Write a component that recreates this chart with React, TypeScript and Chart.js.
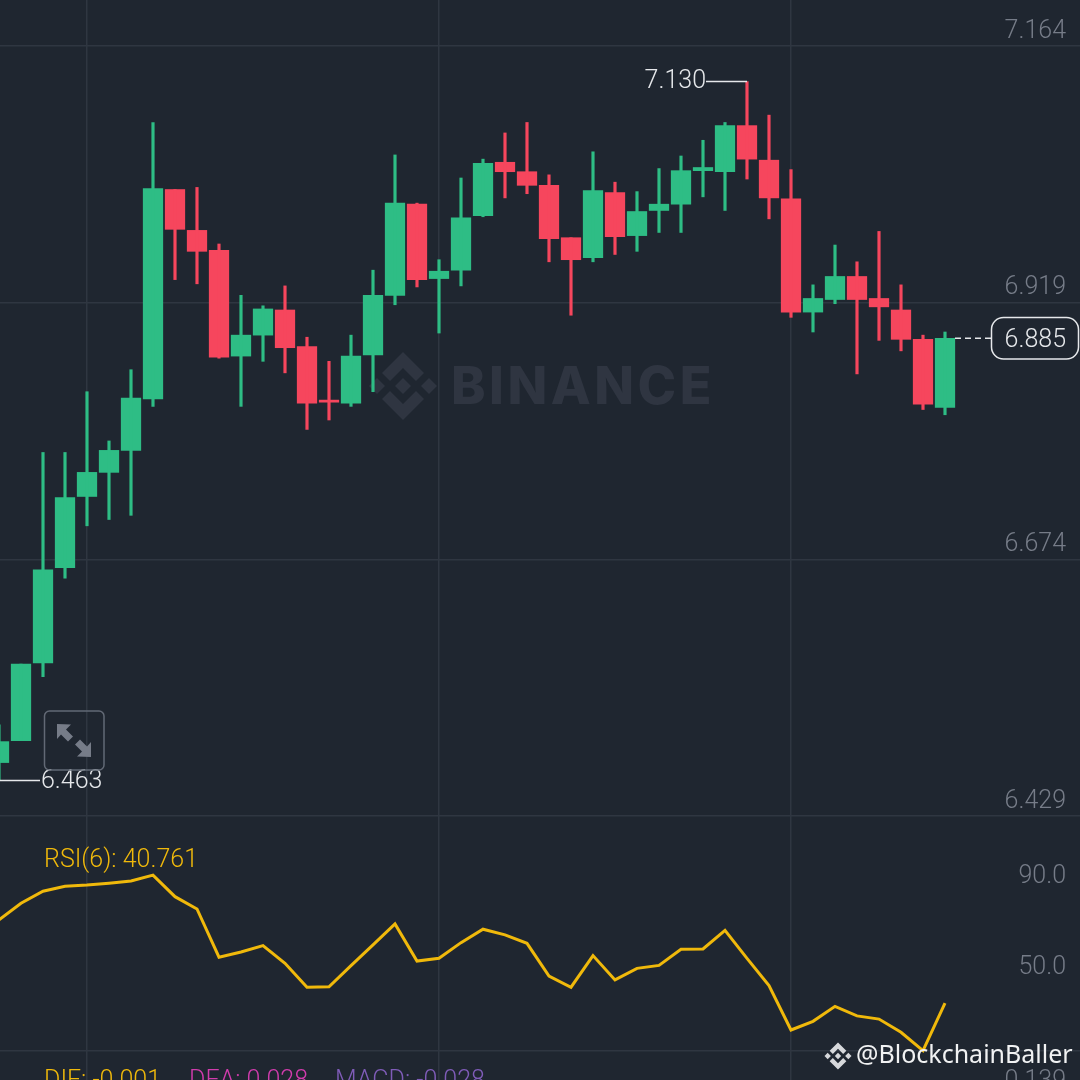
import React, { useEffect, useRef } from "react";
import { Chart, registerables } from "chart.js";

Chart.register(...registerables);

// candle index 0 is the leftmost, partly cut candle
const opens = [6.48, 6.501, 6.575, 6.666, 6.734, 6.757, 6.778, 6.827, 7.027, 6.988, 6.969, 6.868, 6.888, 6.912, 6.877, 6.826, 6.823, 6.869, 6.926, 7.013, 6.942, 6.95, 7.002, 7.053, 7.044, 7.031, 6.981, 6.962, 7.024, 6.983, 7.007, 7.013, 7.045, 7.044, 7.088, 7.055, 7.018, 6.91, 6.922, 6.944, 6.923, 6.912, 6.884, 6.819];
const closes = [6.5, 6.574, 6.664, 6.733, 6.757, 6.778, 6.828, 7.028, 6.989, 6.968, 6.867, 6.888, 6.913, 6.876, 6.823, 6.824, 6.868, 6.926, 7.014, 6.941, 6.949, 7.0, 7.052, 7.044, 7.031, 6.98, 6.96, 7.026, 6.982, 7.006, 7.013, 7.045, 7.048, 7.088, 7.056, 7.019, 6.91, 6.923, 6.944, 6.922, 6.915, 6.884, 6.822, 6.885];
const highs = [6.516, 6.574, 6.776, 6.776, 6.834, 6.787, 6.855, 7.091, 7.027, 7.029, 6.975, 6.926, 6.916, 6.935, 6.886, 6.863, 6.888, 6.95, 7.06, 7.014, 6.96, 7.038, 7.056, 7.081, 7.091, 7.041, 6.981, 7.063, 7.034, 7.025, 7.047, 7.059, 7.074, 7.091, 7.13, 7.098, 7.046, 6.936, 6.974, 6.958, 6.987, 6.936, 6.888, 6.891];
const lows = [6.463, 6.501, 6.562, 6.656, 6.706, 6.712, 6.716, 6.82, 6.941, 6.937, 6.866, 6.82, 6.863, 6.852, 6.798, 6.807, 6.82, 6.834, 6.917, 6.934, 6.89, 6.935, 7.001, 7.019, 7.023, 6.958, 6.907, 6.958, 6.965, 6.968, 6.986, 6.986, 7.02, 7.007, 7.037, 6.999, 6.905, 6.891, 6.918, 6.851, 6.883, 6.873, 6.817, 6.812];
const rsiValues = [77.3, 84.6, 89.9, 92.1, 92.6, 93.4, 94.4, 97.0, 87.5, 82.1, 60.9, 63.2, 66.0, 58.2, 47.7, 47.9, 57.2, 66.3, 75.5, 59.2, 60.4, 67.3, 73.2, 70.7, 67.0, 52.6, 47.7, 61.6, 50.9, 56.0, 57.3, 64.4, 64.5, 72.7, 60.4, 48.4, 28.9, 32.7, 39.3, 35.1, 33.7, 27.9, 19.8, 40.761];

const priceTicks = [7.164, 6.919, 6.674, 6.429];
const panelDividerPrice = 6.205;
const rsiTicks = [90, 50];
const verticalGridCandles = [4, 20, 36];

const lastPrice = 6.885;
const highMark = { index: 34, price: 7.13 };
const lowMark = { index: 0, price: 6.463 };
const rsiLabel = "RSI(6): 40.761";
const macdLabels = [
  { text: "DIF: -0.001", color: "#F0B90B", x: 44 },
  { text: "DEA: 0.028", color: "#D13CAD", x: 189 },
  { text: "MACD: -0.028", color: "#7F5CB8", x: 335 },
];
const macdTick = "0.139";
const watermark = "BINANCE";
const handle = "@BlockchainBaller";

const BG = "#1F2630";
const GRID = "#2F3641";
const UP = "#2EBD85";
const DOWN = "#F6465D";
const AXIS_TEXT = "#767C88";
const LIGHT = "#E6E8EB";
const FONT = "Roboto, sans-serif";

function logo(ctx: CanvasRenderingContext2D, cx: number, cy: number, s: number, color: string) {
  const poly = (pts: number[][]) => {
    ctx.beginPath();
    pts.forEach(([a, b], k) => {
      const px = cx + (a * s) / 34;
      const py = cy + (b * s) / 34;
      if (k === 0) ctx.moveTo(px, py);
      else ctx.lineTo(px, py);
    });
    ctx.closePath();
    ctx.fill();
  };
  const diamond = (dx: number) => poly([[dx, -8], [dx + 8, 0], [dx, 8], [dx - 8, 0]]);
  ctx.fillStyle = color;
  poly([[0, -34], [21, -13], [13, -5], [0, -18], [-13, -5], [-21, -13]]);
  poly([[0, 34], [21, 13], [13, 5], [0, 18], [-13, 5], [-21, 13]]);
  diamond(0);
  diamond(-26);
  diamond(26);
}

const backdrop = {
  id: "backdrop",
  beforeDraw(chart: any) {
    const { ctx, width, height } = chart;
    ctx.save();
    ctx.fillStyle = BG;
    ctx.fillRect(0, 0, width, height);
    ctx.restore();
  },
  beforeDatasetsDraw(chart: any) {
    const { ctx } = chart;
    ctx.save();
    logo(ctx, 403, 386, 34, "#2F3541");
    ctx.fillStyle = "#2F3541";
    ctx.font = "800 52px Inter, Lato, sans-serif";
    (ctx as any).letterSpacing = "3.5px";
    ctx.textAlign = "left";
    ctx.textBaseline = "middle";
    ctx.fillText(watermark, 451, 388.5);
    ctx.restore();
  },
  afterDatasetsDraw(chart: any) {
    const { ctx, scales } = chart;
    const x = scales.x;
    const y = scales.y;
    ctx.save();
    ctx.font = `300 25px ${FONT}`;
    ctx.textBaseline = "middle";

    // high marker
    const hx = x.getPixelForValue(highMark.index);
    const hy = y.getPixelForValue(highMark.price);
    ctx.strokeStyle = LIGHT;
    ctx.lineWidth = 1.5;
    ctx.beginPath();
    ctx.moveTo(hx, hy);
    ctx.lineTo(hx - 41, hy);
    ctx.stroke();
    ctx.fillStyle = LIGHT;
    ctx.textAlign = "right";
    ctx.fillText(highMark.price.toFixed(3), hx - 41, hy);

    // low marker
    const lx = x.getPixelForValue(lowMark.index);
    const ly = y.getPixelForValue(lowMark.price);
    ctx.beginPath();
    ctx.moveTo(lx, ly);
    ctx.lineTo(lx + 41, ly);
    ctx.stroke();
    ctx.textAlign = "left";
    ctx.fillText(lowMark.price.toFixed(3), lx + 42, ly + 1);

    // last price tag
    const py = y.getPixelForValue(lastPrice);
    ctx.setLineDash([6, 4]);
    ctx.beginPath();
    ctx.moveTo(x.getPixelForValue(43) + 10, py);
    ctx.lineTo(991, py);
    ctx.stroke();
    ctx.setLineDash([]);
    ctx.beginPath();
    ctx.roundRect(991.5, 317.5, 87, 41.5, 12);
    ctx.fillStyle = BG;
    ctx.fill();
    ctx.stroke();
    ctx.fillStyle = LIGHT;
    ctx.textAlign = "right";
    ctx.fillText(lastPrice.toFixed(3), 1066, py + 2.5);

    // expand button
    ctx.beginPath();
    ctx.roundRect(44.5, 711, 59.5, 59, 5);
    ctx.strokeStyle = "#626975";
    ctx.lineWidth = 1.5;
    ctx.stroke();
    ctx.fillStyle = "#767C88";
    const tri = (pts: number[][]) => {
      ctx.beginPath();
      pts.forEach(([a, b], k) => (k === 0 ? ctx.moveTo(a, b) : ctx.lineTo(a, b)));
      ctx.closePath();
      ctx.fill();
    };
    tri([[57, 724], [71, 724.5], [66, 729.5], [73, 736.5], [68, 741.5], [61, 734.5], [57, 739]]);
    tri([[91, 757], [77, 756.5], [82, 751.5], [75, 744.5], [80, 739.5], [87, 746.5], [91, 742]]);

    // indicator labels
    ctx.textAlign = "left";
    ctx.fillStyle = "#F0B90B";
    ctx.fillText(rsiLabel, 44, 860.5);
    macdLabels.forEach((m) => {
      ctx.fillStyle = m.color;
      ctx.fillText(m.text, m.x, 1082);
    });
    ctx.fillStyle = AXIS_TEXT;
    ctx.textAlign = "right";
    ctx.fillText(macdTick, 1066, 1082);

    // author badge
    logo(ctx, 838, 1056, 13.5, "#D6D8DB");
    ctx.fillStyle = "#F1F2F3";
    ctx.font = `25px "Noto Sans", sans-serif`;
    ctx.textAlign = "left";
    ctx.fillText(handle, 856, 1056);
    ctx.restore();
  },
};

const flattenAxis = (axis: any) => {
  axis.paddingTop = 0;
  axis.paddingBottom = 0;
  axis.width = 0;
};

export default function App() {
  const ref = useRef<HTMLCanvasElement | null>(null);

  useEffect(() => {
    document.body.style.margin = "0";
    document.body.style.background = BG;
    const candleColors = opens.map((o, i) => (closes[i] >= o ? UP : DOWN));
    const xs = opens.map((_, i) => i);
    const axisFont = { family: FONT, size: 25, weight: "300", lineHeight: 29 / 25 };
    const chart = new Chart(ref.current as HTMLCanvasElement, {
      type: "bar",
      plugins: [backdrop],
      data: {
        datasets: [
          {
            label: "wick",
            data: xs.map((i) => ({ x: i, y: [lows[i], highs[i]] })),
            backgroundColor: candleColors,
            barThickness: 2.5,
            xAxisID: "x",
            yAxisID: "y",
          },
          {
            label: "body",
            data: xs.map((i) => ({ x: i, y: [opens[i], closes[i]] })),
            backgroundColor: candleColors,
            barThickness: 19.6,
            xAxisID: "x",
            yAxisID: "y",
          },
          {
            type: "line",
            label: "RSI(6)",
            data: xs.map((i) => ({ x: i, y: rsiValues[i] })),
            borderColor: "#F0B90B",
            borderWidth: 3,
            pointRadius: 0,
            tension: 0,
            xAxisID: "x",
            yAxisID: "rsi",
          },
        ],
      } as any,
      options: {
        responsive: false,
        animation: false,
        layout: { padding: 0 },
        datasets: { bar: { grouped: false } },
        plugins: { legend: { display: false }, title: { display: false }, tooltip: { enabled: false } },
        scales: {
          x: {
            type: "linear",
            offset: false,
            min: 1 / 22,
            max: 1081 / 22,
            border: { display: false },
            grid: { color: GRID, lineWidth: 1.5, drawTicks: false, offset: false },
            ticks: { display: false },
            afterBuildTicks: (axis: any) => {
              axis.ticks = verticalGridCandles.map((value) => ({ value }));
            },
          },
          y: {
            position: "right",
            min: 6.177,
            max: 7.2079,
            border: { display: false },
            grid: { color: GRID, lineWidth: 1.5, drawTicks: false },
            afterFit: flattenAxis,
            afterBuildTicks: (axis: any) => {
              axis.ticks = [...priceTicks, panelDividerPrice].map((value) => ({ value }));
            },
            ticks: {
              mirror: true,
              padding: -14,
              autoSkip: false,
              color: AXIS_TEXT,
              font: axisFont,
              callback: (v: any) => (priceTicks.includes(v) ? [Number(v).toFixed(3), ""] : ""),
            },
          },
          rsi: {
            position: "right",
            min: 6.92,
            max: 481.65,
            border: { display: false },
            grid: { display: false, drawTicks: false },
            afterFit: flattenAxis,
            afterBuildTicks: (axis: any) => {
              axis.ticks = rsiTicks.map((value) => ({ value }));
            },
            ticks: {
              mirror: true,
              padding: -14,
              autoSkip: false,
              color: AXIS_TEXT,
              font: axisFont,
              callback: (v: any) => [Number(v).toFixed(1), ""],
            },
          },
        },
      } as any,
    });
    return () => chart.destroy();
  }, []);

  return (
    <canvas
      ref={ref}
      width={1080}
      height={1080}
      style={{ display: "block", width: 1080, height: 1080 }}
    />
  );
}
